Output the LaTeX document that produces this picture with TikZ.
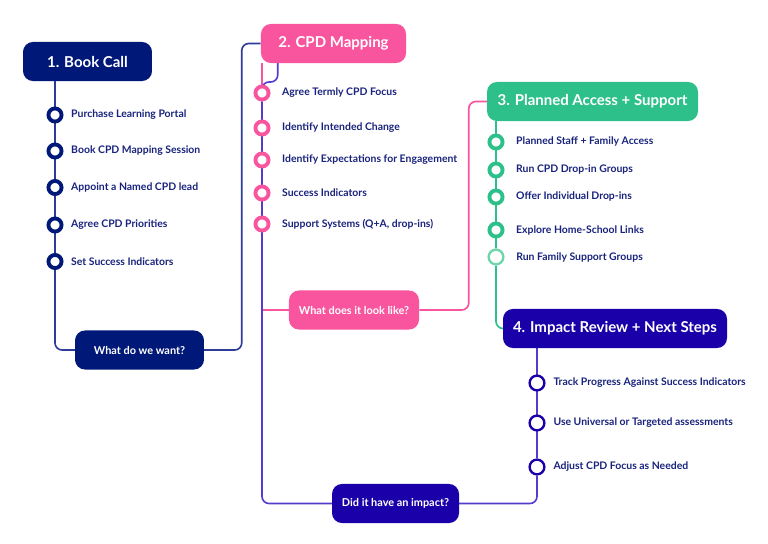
\documentclass[tikz,border=0pt]{standalone}
\usepackage{fontspec}
\setmainfont{Lato}
\usetikzlibrary{positioning, calc}

\definecolor{navybox}{RGB}{0,24,120}
\definecolor{navyline}{RGB}{45,60,155}
\definecolor{pinkbox}{RGB}{249,85,158}
\definecolor{greenbox}{RGB}{46,192,139}
\definecolor{lightgreen}{RGB}{110,215,170}
\definecolor{indigobox}{RGB}{26,0,168}
\definecolor{violetline}{RGB}{85,60,205}
\definecolor{itemblue}{RGB}{25,35,125}

\pgfdeclarelayer{background}
\pgfsetlayers{background,main}

\tikzset{
  stage/.style={fill=#1, rounded corners=8.5pt, text=white, minimum height=33.3pt, inner xsep=0pt, font=\bfseries\fontsize{12.8}{15}\selectfont},
  question/.style={fill=#1, rounded corners=8.5pt, text=white, minimum height=33.3pt, inner xsep=0pt, font=\bfseries\fontsize{9.3}{11}\selectfont},
  ring/.style={circle, draw=#1, fill=white, line width=3.3pt, minimum size=11.2pt, inner sep=0pt},
  thinring/.style={circle, draw=#1, fill=white, line width=2pt, minimum size=12.6pt, inner sep=0pt},
  item/.style={text=itemblue, inner sep=0pt, font=\bfseries\fontsize{8.9}{10}\selectfont},
  link/.style={line width=1.4pt, rounded corners=6pt},
}

\begin{document}
\begin{tikzpicture}[x=0.03cm, y=-0.03cm]
    \begin{pgfonlayer}{background}
        \fill[white] (0,0) rectangle (768,544);
    \end{pgfonlayer}
    \useasboundingbox (0,0) rectangle (768,544);

    % --- Stage boxes ---
    \node[stage=navybox, minimum width=110.1pt] (book) at (87.5,61.5) {1. Book Call};
    \node[stage=pinkbox, minimum width=123.8pt] (map) at (333.5,43.5) {2. CPD Mapping};
    \node[stage=greenbox, minimum width=180.1pt] (plan) at (592.5,101.5) {3. Planned Access + Support};
    \node[stage=indigobox, minimum width=191.2pt] (imp) at (615,328.5) {4. Impact Review + Next Steps};

    % --- Question boxes ---
    \node[question=navybox, minimum width=110.1pt] (want) at (139.5,350) {What do we want?};
    \node[question=pinkbox, minimum width=111pt] (look) at (354,310) {What does it look like?};
    \node[question=indigobox, minimum width=108.4pt] (did) at (395.5,503.5) {Did it have an impact?};

    % 1. Book Call
    \node[ring=navybox] (b1) at (55,115) {};
    \node[ring=navybox] (b2) at (55,151) {};
    \node[ring=navybox] (b3) at (55,187.5) {};
    \node[ring=navybox] (b4) at (55,225) {};
    \node[ring=navybox] (b5) at (55,261.5) {};
    \node[item, right=6.4pt of b1] (b1t) {Purchase Learning Portal};
    \node[item, right=6.4pt of b2] (b2t) {Book CPD Mapping Session};
    \node[item, right=6.4pt of b3] (b3t) {Appoint a Named CPD lead};
    \node[item, right=6.4pt of b4] (b4t) {Agree CPD Priorities};
    \node[item, right=6.4pt of b5] (b5t) {Set Success Indicators};

    % 2. CPD Mapping
    \node[ring=pinkbox] (m1) at (262,93) {};
    \node[ring=pinkbox] (m2) at (262,128) {};
    \node[ring=pinkbox] (m3) at (262,160) {};
    \node[ring=pinkbox] (m4) at (262,193) {};
    \node[ring=pinkbox] (m5) at (262,224) {};
    \node[item, right=9.8pt of m1] (m1t) {Agree Termly CPD Focus};
    \node[item, right=9.8pt of m2] (m2t) {Identify Intended Change};
    \node[item, right=9.8pt of m3] (m3t) {Identify Expectations for Engagement};
    \node[item, right=9.8pt of m4] (m4t) {Success Indicators};
    \node[item, right=9.8pt of m5] (m5t) {Support Systems (Q+A, drop-ins)};

    % 3. Planned Access + Support
    \node[ring=greenbox] (g1) at (496,142) {};
    \node[ring=greenbox] (g2) at (496,170) {};
    \node[ring=greenbox] (g3) at (496,197) {};
    \node[ring=greenbox] (g4) at (496,230) {};
    \node[thinring=lightgreen] (g5) at (496,257) {};
    \node[item, right=9.8pt of g1] (g1t) {Planned Staff + Family Access};
    \node[item, right=9.8pt of g2] (g2t) {Run CPD Drop-in Groups};
    \node[item, right=9.8pt of g3] (g3t) {Offer Individual Drop-ins};
    \node[item, right=9.8pt of g4] (g4t) {Explore Home-School Links};
    \node[item, right=9.8pt of g5] (g5t) {Run Family Support Groups};

    % 4. Impact Review + Next Steps
    \node[thinring=indigobox] (i1) at (537,383) {};
    \node[thinring=indigobox] (i2) at (537,423) {};
    \node[thinring=indigobox] (i3) at (537,467) {};
    \node[item, right=6.6pt of i1] (i1t) {Track Progress Against Success Indicators};
    \node[item, right=6.6pt of i2] (i2t) {Use Universal or Targeted assessments};
    \node[item, right=6.6pt of i3] (i3t) {Adjust CPD Focus as Needed};

    % --- Connectors (behind the boxes) ---
    \begin{pgfonlayer}{background}
        % Book Call -> What do we want? -> CPD Mapping
        \draw[link, navyline] (book.south -| b1) -- (b5) |- (want.west);
        \draw[link, navyline] (want.east) -| ($(map.west)+(-19,0)$) -- (map.west);

        % CPD Mapping -> What does it look like? -> Planned Access
        \draw[link, pinkbox] (map.south -| m1) -- (m1);
        \draw[link, pinkbox] (m5 |- look) -- (look.west);
        \draw[link, pinkbox] (look.east) -| ($(plan.west)+(-18,0)$) -- (plan.west);

        % Planned Access -> Impact Review
        \draw[link, greenbox] (plan.south -| g1) -- (g5) |- (imp.west);

        % Impact Review -> Did it have an impact? -> back to CPD Mapping
        \draw[link, violetline] (imp.south -| i1) -- (i3) |- (did.east);
        \draw[link, violetline] (did.west) -| (m1) -- ++(0,-11) -| ($(map.south west)+(17,0)$);
    \end{pgfonlayer}

\end{tikzpicture}
\end{document}
